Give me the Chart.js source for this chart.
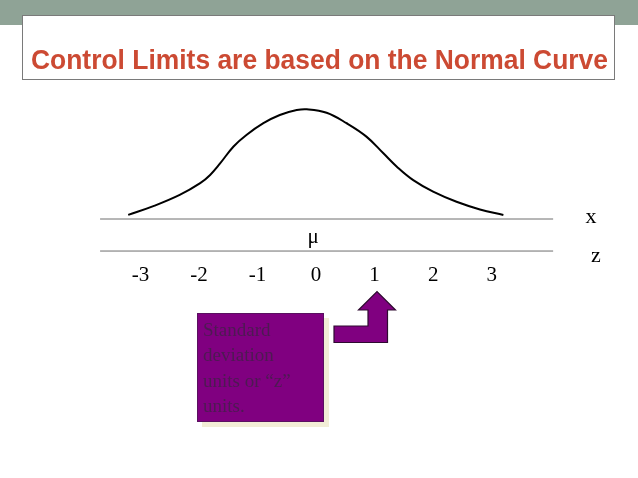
<!DOCTYPE html>
<html>
<head>
<meta charset="utf-8">
<script src="https://cdn.jsdelivr.net/npm/chart.js@4.4.0/dist/chart.umd.min.js"></script>
<style>
html,body{margin:0;padding:0;background:#fff;}
#wrap{width:638px;height:478px;position:relative;}
</style>
</head>
<body>
<div id="wrap"><canvas id="c" width="638" height="478"></canvas></div>
<script>
// ---- data ----
const curveZ = [-3.21,-2.78,-2.33,-1.98,-1.81,-1.64,-1.41,-1.19,-0.90,-0.62,-0.33,-0.16,0.18,0.52,0.86,1.15,1.38,1.66,2.00,2.40,2.80,3.20];
const curveY = [0.015,0.047,0.088,0.131,0.161,0.203,0.265,0.307,0.350,0.380,0.398,0.401,0.388,0.350,0.301,0.240,0.191,0.142,0.100,0.063,0.035,0.015];
const xAxisLineZ = [-3.69, 4.05];
const xAxisLineY = [0, 0];
const zAxisLineZ = [-3.69, 4.05];
const zAxisLineY = [-0.117, -0.117];
const zTickValues = [-3,-2,-1,0,1,2,3];
const zTickLabels = ['-3','-2','-1','0','1','2','3'];
const titleText = 'Control Limits are based on the Normal Curve';
const boxLines = ['Standard','deviation','units or \u201cz\u201d','units.'];

const toPts = (xs, ys) => xs.map((x,i)=>({x:x, y:ys[i]}));

const decor = {
  id:'decor',
  beforeDraw(chart){
    const ctx = chart.ctx;
    ctx.save();
    ctx.fillStyle = '#ffffff';
    ctx.fillRect(0,0,638,478);
    ctx.fillStyle = '#8fa396';
    ctx.fillRect(0,0,638,25);
    ctx.fillStyle = '#ffffff';
    ctx.fillRect(22,15,593,64);
    ctx.strokeStyle = '#7a7a7a';
    ctx.lineWidth = 1;
    ctx.strokeRect(22.5,15.5,592,64);
    ctx.fillStyle = '#cc4a33';
    ctx.font = 'bold 28px "Liberation Sans", Arial, sans-serif';
    ctx.textBaseline = 'alphabetic';
    ctx.textAlign = 'left';
    ctx.fillText(titleText, 31, 69, 577);
    ctx.restore();
  },
  afterDraw(chart){
    const ctx = chart.ctx;
    const xs = chart.scales.x;
    ctx.save();
    ctx.fillStyle = '#000';
    ctx.font = '21px "Liberation Serif", "Times New Roman", serif';
    ctx.textAlign = 'center';
    ctx.textBaseline = 'middle';
    zTickValues.forEach((v,i)=>{
      ctx.fillText(zTickLabels[i], xs.getPixelForValue(v), 275);
    });
    ctx.fillText('\u03bc', xs.getPixelForValue(-0.05), 237);
    ctx.font = '22px "Liberation Serif", "Times New Roman", serif';
    ctx.fillText('x', 591, 217);
    ctx.fillText('z', 596, 256);

    // shadow + purple box
    ctx.fillStyle = '#f2edd6';
    ctx.fillRect(202,318,127,109);
    ctx.fillStyle = '#800080';
    ctx.fillRect(197,313,127,109);
    ctx.strokeStyle = '#5a1060';
    ctx.lineWidth = 1;
    ctx.strokeRect(197.5,313.5,126,108);
    ctx.fillStyle = '#4d1a52';
    ctx.font = '19px "Liberation Serif", "Times New Roman", serif';
    ctx.textAlign = 'left';
    ctx.textBaseline = 'middle';
    boxLines.forEach((t,i)=>ctx.fillText(t, 203, 331 + i*25.5));

    // bent arrow
    ctx.beginPath();
    ctx.moveTo(334,326);
    ctx.lineTo(368,326);
    ctx.lineTo(368,310);
    ctx.lineTo(358.5,310);
    ctx.lineTo(377,291.5);
    ctx.lineTo(395.5,310);
    ctx.lineTo(387.5,310);
    ctx.lineTo(387.5,342.5);
    ctx.lineTo(334,342.5);
    ctx.closePath();
    ctx.fillStyle = '#800080';
    ctx.fill();
    ctx.strokeStyle = '#2e0a30';
    ctx.lineWidth = 1.2;
    ctx.stroke();
    ctx.restore();
  }
};

new Chart(document.getElementById('c'), {
  type:'line',
  data:{
    datasets:[
      {data: toPts(curveZ, curveY), borderColor:'#000', borderWidth:2, tension:0.4, pointRadius:0, fill:false},
      {data: toPts(xAxisLineZ, xAxisLineY), borderColor:'#6e6e6e', borderWidth:1, pointRadius:0, fill:false},
      {data: toPts(zAxisLineZ, zAxisLineY), borderColor:'#6e6e6e', borderWidth:1, pointRadius:0, fill:false}
    ]
  },
  options:{
    responsive:false,
    animation:false,
    devicePixelRatio:1,
    layout:{padding:0},
    plugins:{legend:{display:false}, tooltip:{enabled:false}, title:{display:false}},
    scales:{
      x:{type:'linear', min:-5.4, max:5.5, display:false},
      y:{type:'linear', min:-0.946, max:0.8, display:false}
    }
  },
  plugins:[decor]
});
</script>
</body>
</html>
